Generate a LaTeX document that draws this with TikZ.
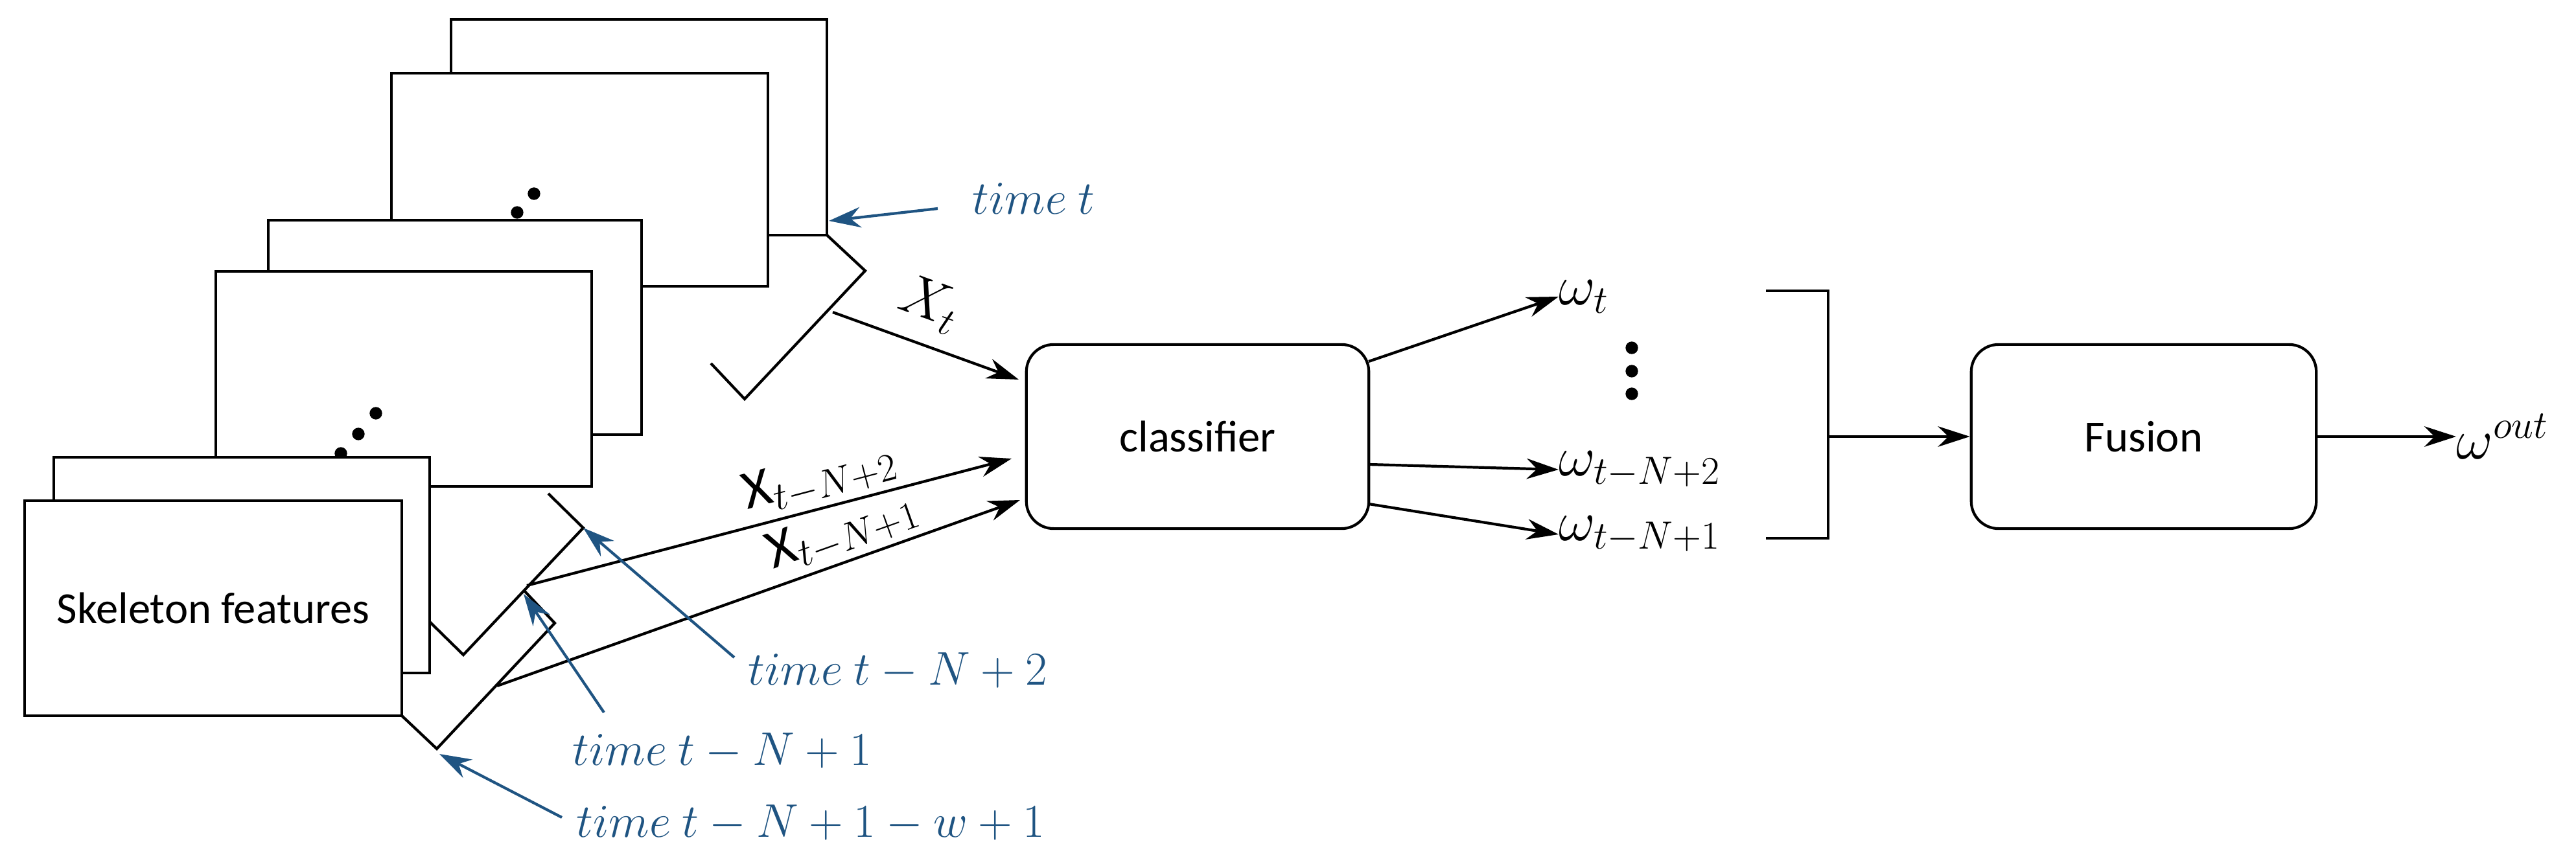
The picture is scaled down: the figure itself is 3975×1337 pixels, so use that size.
\documentclass[tikz,border=0pt]{standalone}
\usepackage{fontspec}
\setmainfont{Carlito}
\usetikzlibrary{arrows.meta}
\definecolor{tblue}{RGB}{31,84,130}
\begin{document}
\begin{tikzpicture}[x=0.01cm,y=-0.01cm,
 fr/.style={draw,fill=white,line width=1.2pt},
 ln/.style={line width=1.2pt},
 ar/.style={line width=1.2pt,-{Stealth[length=14pt,width=9pt]}},
 bar/.style={draw=tblue,line width=1.2pt,-{Stealth[length=14pt,width=9pt]}},
 tl/.style={text=tblue,font=\fontsize{22}{26}\selectfont,anchor=west,inner sep=0pt},
 ml/.style={font=\fontsize{24}{28}\selectfont,inner sep=0pt},
 box/.style={draw,rounded corners=12pt,line width=1.2pt,minimum height=284pt*0.2846,font=\fontsize{19.5}{24}\selectfont},
 dot/.style={circle,fill,inner sep=0pt,minimum size=5.5pt}]
\useasboundingbox (0,0) rectangle (3975,1337);
% frames
\draw[fr] (696,30) rectangle (1276,363);
\draw[fr] (604,113) rectangle (1185,442);
\node[dot] (d1) at (772,357) {};
\node[dot] (d2) at (798,328) {};
\node[dot] (d3) at (824,299) {};
\draw[fr] (414,340) rectangle (990,671);
\draw[fr] (333,419) rectangle (913,751);
\node[dot] (d4) at (526,700) {};
\node[dot] (d5) at (553,670) {};
\node[dot] (d6) at (580,638) {};
\draw[fr] (83,706) rectangle (663,1039);
\draw[fr] (38,773) rectangle (620,1105);
\node[font=\fontsize{19.5}{24}\selectfont] (sk) at (329,939) {Skeleton features};
% chevrons
\draw[ln] (1276,363) -- (1335,418) -- (1149,616) -- (1097,561);
\draw[ln] (846,762) -- (900,815) -- (715,1011) -- (663,960);
\draw[ln] (620,1105) -- (674,1156) -- (856,962) -- (808,911);
% boxes
\node[box,minimum width=528pt*0.2846] (cl) at (1848,674) {classifier};
\node[box,minimum width=532pt*0.2846] (fu) at (3308,674) {Fusion};
% inputs
\coordinate (a1) at (1285,482);
\coordinate (a2) at (813,904);
\coordinate (a3) at (767,1059);
\draw[ar] (a1) -- (1572,586) node[pos=0.5,above,ml,xshift=-2pt,yshift=8pt,rotate=-20] {$X_t$};
\draw[ar] (a2) -- (1561,708) node[pos=0.62,above,sloped,ml,yshift=2pt] {$\mathrm{X}_{t-N+2}$};
\draw[ar] (a3) -- (1574,772) node[pos=0.68,above,sloped,ml,yshift=2pt] {$\mathrm{X}_{t-N+1}$};
% outputs
\node[ml,anchor=west] (w1) at (2405,458) {$\omega_t$};
\node[ml,anchor=west] (w2) at (2405,725) {$\omega_{t-N+2}$};
\node[ml,anchor=west] (w3) at (2405,825) {$\omega_{t-N+1}$};
\draw[ar] (2112,558) -- (w1.west);
\draw[ar] (2112,717) -- (w2.west);
\draw[ar] (2112,778) -- (w3.west);
\node[dot,minimum size=5.5pt] (e1) at (2518,537) {};
\node[dot,minimum size=5.5pt] (e2) at (2518,573) {};
\node[dot,minimum size=5.5pt] (e3) at (2518,608) {};
\draw[ln] (2725,449) -- (2821,449) -- (2821,831) -- (2725,831);
\coordinate (br) at (2821,674);
\draw[ar] (br) -- (fu.west);
\node[ml,anchor=west] (wo) at (3790,674) {$\omega^{out}$};
\draw[ar] (fu.east) -- (wo.west);
% blue annotations
\node[tl] (t1) at (1500,307) {$time\ t$};
\draw[bar] (1447,322) -- (1279,341);
\node[tl] (t2) at (1154,1036) {$time\ t-N+2$};
\draw[bar] (1133,1015) -- (900,815);
\node[tl] (t3) at (883,1160) {$time\ t-N+1$};
\draw[bar] (932,1100) -- (808,917);
\node[tl] (t4) at (889,1271) {$time\ t-N+1-w+1$};
\draw[bar] (867,1262) -- (678,1164);
\end{tikzpicture}
\end{document}
